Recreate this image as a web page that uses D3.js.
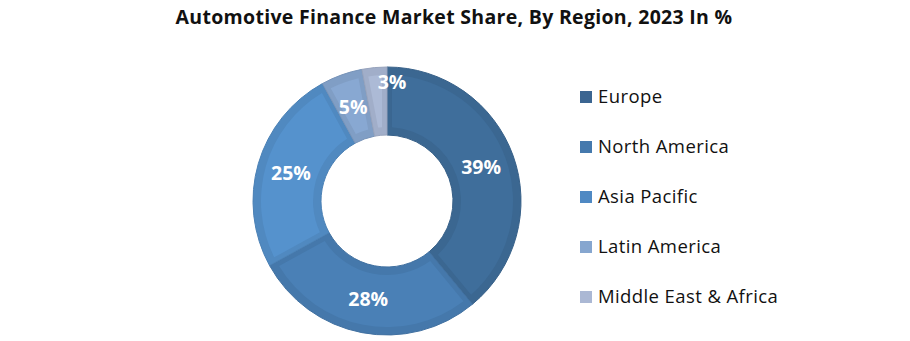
<!DOCTYPE html>
<html lang="en">
<head>
<meta charset="UTF-8">
<title>Automotive Finance Market Share</title>
<script src="https://cdnjs.cloudflare.com/ajax/libs/d3/7.8.5/d3.min.js"></script>
<style>
  body { margin: 0; background: #fff; }
</style>
</head>
<body>
<div id="chart"></div>
<script>
  var regions = ["Europe", "North America", "Asia Pacific", "Latin America", "Middle East & Africa"];
  var shares = [39, 28, 25, 5, 3];
  var colors = ["#3f6e9b", "#4a80b6", "#5592cd", "#88a8d2", "#acbad6"];
  var legendColors = ["#3b6591", "#4579ad", "#4f89c3", "#86a6cf", "#abb8d4"];

  var width = 910, height = 341;
  var cx = 387, cy = 201;
  var outerR = 134, innerR = 66;

  var svg = d3.select("#chart").append("svg")
    .attr("width", width)
    .attr("height", height);

  svg.append("text")
    .attr("x", 454)
    .attr("y", 24)
    .attr("text-anchor", "middle")
    .style("font-family", "'Open Sans', sans-serif")
    .style("font-weight", "bold")
    .style("font-size", "19.5px")
    .style("letter-spacing", "0.3px")
    .style("fill", "#111")
    .text("Automotive Finance Market Share, By Region, 2023 In %");

  var data = regions.map(function(r, i) { return { region: r, value: shares[i], i: i }; });

  var pie = d3.pie().value(function(d) { return d.value; }).sort(null);
  var arcs = pie(data);

  var g = svg.append("g").attr("transform", "translate(" + cx + "," + cy + ")");

  // darker rim of each slice
  var rim = d3.arc().innerRadius(innerR).outerRadius(outerR);
  // lighter face inset for a bevel look
  var face = d3.arc().innerRadius(innerR + 8).outerRadius(outerR - 8)
    .padAngle(0.1).padRadius(100);

  g.selectAll("path.rim")
    .data(arcs)
    .enter().append("path")
    .attr("class", "rim")
    .attr("d", rim)
    .attr("fill", function(d) { return d3.color(colors[d.index]).darker(0.18); })
    .attr("stroke", function(d) { return d3.color(colors[d.index]).darker(0.35); })
    .attr("stroke-width", 1);

  g.selectAll("path.face")
    .data(arcs)
    .enter().append("path")
    .attr("class", "face")
    .attr("d", face)
    .attr("fill", function(d) { return colors[d.index]; });

  var labelArc = d3.arc().innerRadius(100).outerRadius(100);
  var smallArc = d3.arc().innerRadius(120).outerRadius(120);

  g.selectAll("text.lbl")
    .data(arcs)
    .enter().append("text")
    .attr("class", "lbl")
    .attr("transform", function(d) {
      var c = d.data.value < 4 ? smallArc.centroid(d) : labelArc.centroid(d);
      return "translate(" + c[0] + "," + c[1] + ")";
    })
    .attr("dy", "0.36em")
    .attr("dx", function(d) { return d.data.value < 4 ? 2 : 0; })
    .attr("text-anchor", function(d) { return d.data.value < 4 ? "start" : "middle"; })
    .style("font-family", "'Open Sans', sans-serif")
    .style("font-weight", "bold")
    .style("font-size", "19.5px")
    .style("fill", "#fff")
    .text(function(d) { return d.data.value + "%"; });

  var legendY = d3.scalePoint().domain(regions).range([97, 297]);

  var legend = svg.append("g").selectAll("g")
    .data(data)
    .enter().append("g")
    .attr("transform", function(d) { return "translate(580," + legendY(d.region) + ")"; });

  legend.append("rect")
    .attr("x", 0)
    .attr("y", -6)
    .attr("width", 12)
    .attr("height", 12)
    .attr("fill", function(d) { return legendColors[d.i]; });

  legend.append("text")
    .attr("x", 18)
    .attr("y", 0)
    .attr("dy", "0.35em")
    .style("font-family", "'Open Sans', sans-serif")
    .style("font-size", "18.5px")
    .style("letter-spacing", "0.4px")
    .style("fill", "#111")
    .text(function(d) { return d.region; });
</script>
</body>
</html>
